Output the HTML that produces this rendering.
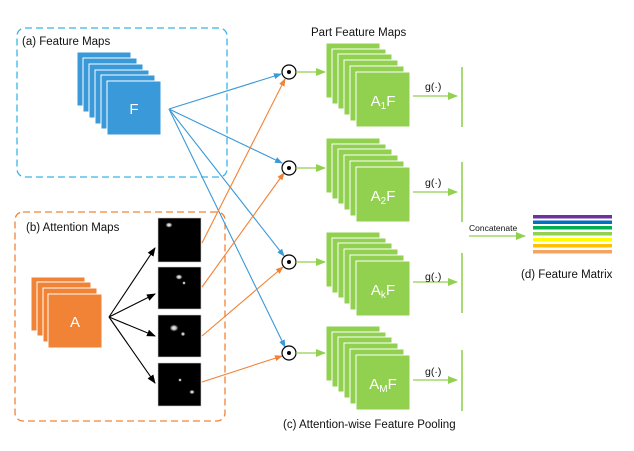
<!DOCTYPE html>
<html><head><meta charset="utf-8"><style>
body{margin:0;background:#fff;}
svg{display:block;font-family:"Liberation Sans","DejaVu Sans",sans-serif;}
</style></head><body>
<svg width="634" height="451" viewBox="0 0 634 451" xmlns="http://www.w3.org/2000/svg">
<defs>
<marker id="mb" markerWidth="8" markerHeight="8" refX="7" refY="4" orient="auto" markerUnits="userSpaceOnUse"><path d="M0,1 L8,4 L0,7 z" fill="#3a99d8"/></marker>
<marker id="mo" markerWidth="8" markerHeight="8" refX="7" refY="4" orient="auto" markerUnits="userSpaceOnUse"><path d="M0,1 L8,4 L0,7 z" fill="#f08336"/></marker>
<marker id="mg" markerWidth="10" markerHeight="10" refX="9" refY="5" orient="auto" markerUnits="userSpaceOnUse"><path d="M0,1 L10,5 L0,9 z" fill="#92d050"/></marker>
<marker id="mk" markerWidth="9" markerHeight="9" refX="8" refY="4.5" orient="auto" markerUnits="userSpaceOnUse"><path d="M0,1 L9,4.5 L0,8 z" fill="#000"/></marker>
<radialGradient id="sp"><stop offset="0" stop-color="#fff"/><stop offset="0.5" stop-color="#aaa"/><stop offset="1" stop-color="#000" stop-opacity="0"/></radialGradient>
</defs>
<rect x="17" y="28" width="210" height="149" rx="8" fill="none" stroke="#3bb5e8" stroke-width="1.3" stroke-dasharray="7,4"/>
<rect x="15" y="212" width="210" height="209" rx="8" fill="none" stroke="#f08336" stroke-width="1.3" stroke-dasharray="7,4"/>
<g font-size="11.5" fill="#111">
<text x="22" y="45">(a) Feature Maps</text>
<text x="26" y="231">(b) Attention Maps</text>
<text x="311" y="36">Part Feature Maps</text>
<text x="283" y="428">(c) Attention-wise Feature Pooling</text>
<text x="521" y="278">(d) Feature Matrix</text>
</g>
<text x="469" y="231" font-size="8.5" fill="#111">Concatenate</text>
<!-- F stack -->
<g fill="#3a99d8" stroke="#fff" stroke-width="1">
<rect x="77" y="52" width="54" height="54"/><rect x="83" y="58" width="54" height="54"/><rect x="89" y="64" width="54" height="54"/><rect x="95" y="70" width="54" height="54"/><rect x="101" y="75" width="54" height="54"/><rect x="107" y="81" width="54" height="54"/>
</g>
<text x="134" y="114" font-size="15" fill="#fff" text-anchor="middle">F</text>
<!-- A stack -->
<g fill="#f08336" stroke="#fff" stroke-width="1">
<rect x="31" y="277" width="54" height="54"/><rect x="37" y="282" width="54" height="54"/><rect x="43" y="288" width="54" height="54"/><rect x="48" y="294" width="54" height="54"/>
</g>
<text x="75" y="327" font-size="15" fill="#fff" text-anchor="middle">A</text>
<!-- black fan -->
<g stroke="#000" stroke-width="1.1" marker-end="url(#mk)">
<line x1="109" y1="317" x2="155" y2="248"/><line x1="109" y1="317" x2="155" y2="294"/><line x1="109" y1="317" x2="155" y2="336"/><line x1="109" y1="317" x2="155" y2="383"/>
</g>
<!-- attention images -->
<g fill="#000" stroke="#ccc" stroke-width="0.6">
<rect x="158" y="218" width="43" height="44"/><rect x="158" y="267" width="43" height="42"/><rect x="158" y="315" width="43" height="42"/><rect x="158" y="363" width="43" height="43"/>
</g>
<g fill="url(#sp)">
<ellipse cx="169" cy="225" rx="4" ry="3"/><ellipse cx="179" cy="277" rx="4" ry="3"/><ellipse cx="184" cy="283" rx="2" ry="2"/>
<ellipse cx="174" cy="328" rx="5" ry="4"/><ellipse cx="183" cy="334" rx="2.5" ry="2.5"/><ellipse cx="180" cy="380" rx="2" ry="2"/><ellipse cx="192" cy="392" rx="3" ry="2.5"/>
</g>
<!-- blue lines -->
<g stroke="#3a99d8" stroke-width="1.1" marker-end="url(#mb)">
<line x1="169" y1="109" x2="281" y2="74"/><line x1="169" y1="109" x2="282" y2="163"/><line x1="169" y1="109" x2="284" y2="256"/><line x1="169" y1="109" x2="285" y2="347"/>
</g>
<!-- orange lines -->
<g stroke="#f08336" stroke-width="1.1" marker-end="url(#mo)">
<line x1="202" y1="243" x2="285" y2="79"/><line x1="202" y1="287" x2="284" y2="173"/><line x1="202" y1="336" x2="283" y2="267"/><line x1="202" y1="382" x2="282" y2="356"/>
</g>
<!-- circles -->
<g stroke="#000" stroke-width="1.2" fill="#fff">
<circle cx="289" cy="72" r="7"/><circle cx="289" cy="168" r="7"/><circle cx="289" cy="262" r="7"/><circle cx="289" cy="353" r="7"/>
</g>
<g fill="#000"><circle cx="289" cy="72" r="2"/><circle cx="289" cy="168" r="2"/><circle cx="289" cy="262" r="2"/><circle cx="289" cy="353" r="2"/></g>
<!-- green arrows -->
<g stroke="#92d050" stroke-width="1.3" marker-end="url(#mg)">
<line x1="296" y1="72" x2="325" y2="72"/><line x1="296" y1="168" x2="325" y2="168"/><line x1="296" y1="262" x2="325" y2="262"/><line x1="296" y1="353" x2="325" y2="353"/>
<line x1="413" y1="96" x2="457" y2="96"/><line x1="413" y1="192" x2="457" y2="192"/><line x1="413" y1="282" x2="457" y2="282"/><line x1="413" y1="380" x2="457" y2="380"/>
<line x1="469" y1="236" x2="525" y2="236"/>
</g>
<g stroke="#92d050" stroke-width="1.6">
<line x1="462" y1="67" x2="462" y2="127"/><line x1="462" y1="162" x2="462" y2="222"/><line x1="462" y1="253" x2="462" y2="313"/><line x1="462" y1="350" x2="462" y2="411"/>
</g>
<g font-size="10.5" fill="#111">
<text x="425" y="90">g(·)</text><text x="425" y="186">g(·)</text><text x="425" y="280">g(·)</text><text x="425" y="375">g(·)</text>
</g>
<!-- green stacks -->
<g fill="#92d050" stroke="#fff" stroke-width="1">
<g id="gs"><rect x="326" y="43" width="54" height="55"/><rect x="332" y="49" width="54" height="55"/><rect x="338" y="54" width="54" height="55"/><rect x="344" y="60" width="54" height="55"/><rect x="350" y="66" width="54" height="55"/><rect x="356" y="72" width="54" height="55"/></g>
<use href="#gs" y="95"/><use href="#gs" y="189"/><use href="#gs" y="283"/>
</g>
<g fill="#fff" font-size="15" text-anchor="middle">
<text x="383" y="106">A<tspan font-size="10" dy="3">1</tspan><tspan dy="-3">F</tspan></text>
<text x="383" y="201">A<tspan font-size="10" dy="3">2</tspan><tspan dy="-3">F</tspan></text>
<text x="383" y="295">A<tspan font-size="10" dy="3">k</tspan><tspan dy="-3">F</tspan></text>
<text x="383" y="389">A<tspan font-size="10" dy="3">M</tspan><tspan dy="-3">F</tspan></text>
</g>
<!-- feature matrix -->
<rect x="533" y="215" width="79" height="3.5" fill="#7030a0"/>
<rect x="533" y="220.5" width="79" height="3.5" fill="#0070c0"/>
<rect x="533" y="226" width="79" height="3.5" fill="#00b050"/>
<rect x="533" y="232" width="79" height="3.5" fill="#92d050"/>
<rect x="533" y="238" width="79" height="3.5" fill="#ffff00"/>
<rect x="533" y="244" width="79" height="3.5" fill="#ffc000"/>
<rect x="533" y="250" width="79" height="3.5" fill="#f4a460"/>
</svg>
</body></html>
